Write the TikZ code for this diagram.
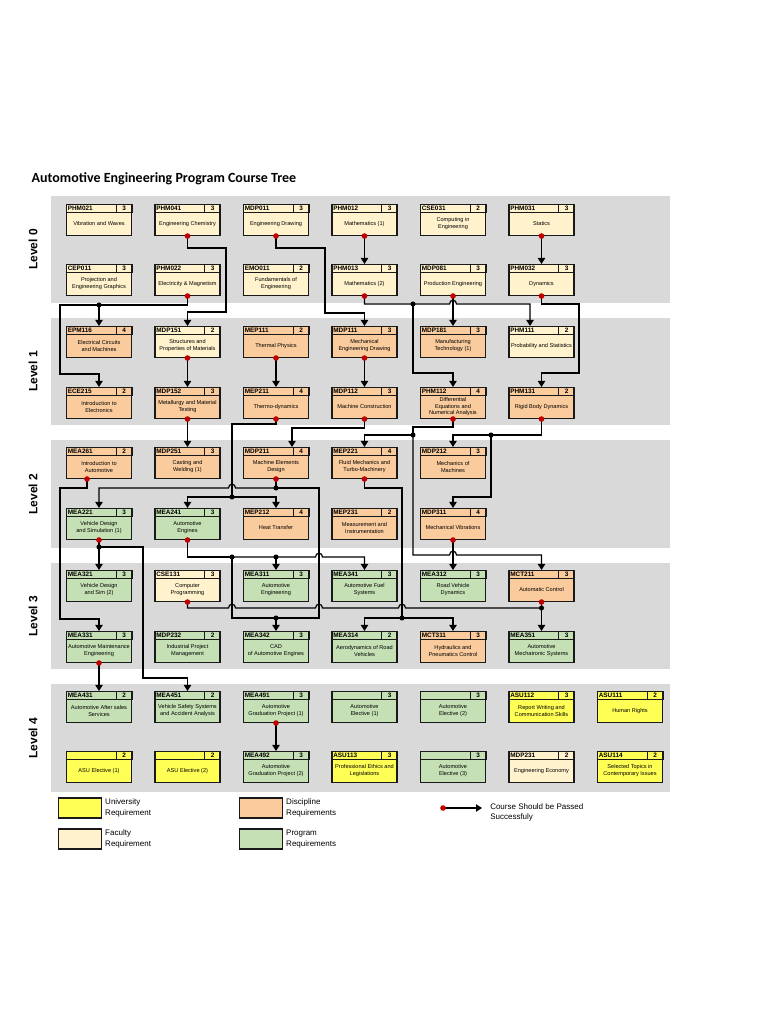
\documentclass[tikz,border=0pt]{standalone}
\usepackage{fontspec}
\setmainfont{Liberation Sans}
\newfontfamily\titlefont{Carlito}
\usepackage{xcolor}
\usetikzlibrary{arrows.meta,positioning}

\definecolor{bandgrey}{HTML}{D9D9D9}
\definecolor{faculty}{HTML}{FFF2CC}
\definecolor{discipline}{HTML}{FACB9C}
\definecolor{program}{HTML}{C5E0B4}
\definecolor{univ}{HTML}{FFFF55}
\definecolor{dotred}{HTML}{C00000}

% course box: name, x, y, fill, code, credits, title
\newcommand{\course}[7]{%
  \node[course, fill=#4] (#1) at (#2,#3) {};
  \draw[hdr] (#1.north west) rectangle ([yshift=-6pt]#1.north east);
  \draw[hdr] ([xshift=-12pt]#1.north east) -- ([xshift=-12pt,yshift=-6pt]#1.north east);
  \node[code, anchor=west] (#1-c) at ([xshift=1.2pt,yshift=-3pt]#1.north west) {#5};
  \node[code] (#1-k) at ([xshift=-6pt,yshift=-3pt]#1.north east) {#6};
  \node[ttext] (#1-t) at ([yshift=-2.8pt]#1.center) {#7};
}

\begin{document}
\begin{tikzpicture}[x=0.75pt, y=-0.75pt,
  course/.style={draw=black!90, line width=0.8pt, minimum width=48.75pt,
                 minimum height=23.25pt, inner sep=0pt},
  hdr/.style={draw=black!90, line width=0.7pt},
  code/.style={font=\fontsize{4.8}{5}\selectfont\bfseries, inner sep=0pt},
  ttext/.style={font=\fontsize{4.2}{5}\selectfont, align=center, inner sep=0pt},
  band/.style={fill=bandgrey},
  lvl/.style={font=\fontsize{9}{10}\selectfont\bfseries, rotate=90},
  wire/.style={line width=0.9pt, black},
  link/.style={wire, -{Triangle[width=5.5pt,length=4.5pt]}},
  legbox/.style={draw=black!90, line width=0.8pt, minimum width=32.25pt,
                 minimum height=15pt, inner sep=0pt},
  legtext/.style={font=\fontsize{6}{8}\selectfont, align=left, inner sep=0pt}
]
\useasboundingbox (0,0) rectangle (768,1024);

% title and level bands
\node[font=\titlefont\fontsize{10.5}{12}\selectfont\bfseries, anchor=west] (title) at (27,179)
  {Automotive Engineering Program Course Tree};
\fill[band] (51,196) rectangle (670,303);
\fill[band] (51,318) rectangle (670,425);
\fill[band] (51,440) rectangle (670,548);
\fill[band] (51,563) rectangle (670,669);
\fill[band] (51,684) rectangle (670,792);
\node[lvl] (lvl0) at (33,249.5) {Level 0};
\node[lvl] (lvl1) at (33,371.5) {Level 1};
\node[lvl] (lvl2) at (33,494) {Level 2};
\node[lvl] (lvl3) at (33,616) {Level 3};
\node[lvl] (lvl4) at (33,738) {Level 4};

% level 0
\course{phm021}{99}{220}{faculty}{PHM021}{3}{Vibration and Waves}
\course{phm041}{187.5}{220}{faculty}{PHM041}{3}{Engineering Chemistry}
\course{mdp011}{276}{220}{faculty}{MDP011}{3}{Engineering Drawing}
\course{phm012}{364.5}{220}{faculty}{PHM012}{3}{Mathematics (1)}
\course{cse031}{453}{220}{faculty}{CSE031}{2}{Computing in\\Engineering}
\course{phm031}{541.5}{220}{faculty}{PHM031}{3}{Statics}
\course{cep011}{99}{280}{faculty}{CEP011}{3}{Projection and\\Engineering Graphics}
\course{phm022}{187.5}{280}{faculty}{PHM022}{3}{Electricity \& Magnetism}
\course{emo011}{276}{280}{faculty}{EMO011}{2}{Fundamentals of\\Engineering}
\course{phm013}{364.5}{280}{faculty}{PHM013}{3}{Mathematics (2)}
\course{mdp081}{453}{280}{faculty}{MDP081}{3}{Production Engineering}
\course{phm032}{541.5}{280}{faculty}{PHM032}{3}{Dynamics}

% level 1
\course{epm116}{99}{342}{discipline}{EPM116}{4}{Electrical Circuits\\and Machines}
\course{mdp151}{187.5}{342}{faculty}{MDP151}{2}{Structures and\\Properties of Materials}
\course{mep111}{276}{342}{discipline}{MEP111}{2}{Thermal Physics}
\course{mdp111}{364.5}{342}{discipline}{MDP111}{3}{Mechanical\\Engineering Drawing}
\course{mdp181}{453}{342}{discipline}{MDP181}{3}{Manufacturing\\Technology (1)}
\course{phm111}{541.5}{342}{faculty}{PHM111}{2}{Probability and Statistics}
\course{ece215}{99}{403}{discipline}{ECE215}{2}{Introduction to\\Electronics}
\course{mdp152}{187.5}{403}{discipline}{MDP152}{3}{Metallurgy and Material\\Testing}
\course{mep211}{276}{403}{discipline}{MEP211}{4}{Thermo-dynamics}
\course{mdp112}{364.5}{403}{discipline}{MDP112}{3}{Machine Construction}
\course{phm112}{453}{403}{discipline}{PHM112}{4}{Differential\\Equations and\\Numerical Analysis}
\course{phm131}{541.5}{403}{discipline}{PHM131}{2}{Rigid Body Dynamics}

% level 2
\course{mea261}{99}{463}{discipline}{MEA261}{2}{Introduction to\\Automotive}
\course{mdp251}{187.5}{463}{discipline}{MDP251}{3}{Casting and\\Welding (1)}
\course{mdp211}{276}{463}{discipline}{MDP211}{4}{Machine Elements\\Design}
\course{mep221}{364.5}{463}{discipline}{MEP221}{4}{Fluid Mechanics and\\Turbo-Machinery}
\course{mdp212}{453}{463}{discipline}{MDP212}{3}{Mechanics of\\Machines}
\course{mea221}{99}{524}{program}{MEA221}{3}{Vehicle Design\\and Simulation (1)}
\course{mea241}{187.5}{524}{program}{MEA241}{3}{Automotive\\Engines}
\course{mep212}{276}{524}{discipline}{MEP212}{4}{Heat Transfer}
\course{mep231}{364.5}{524}{discipline}{MEP231}{2}{Measurement and\\Instrumentation}
\course{mdp311}{453}{524}{discipline}{MDP311}{4}{Mechanical Vibrations}

% level 3
\course{mea321}{99}{586}{program}{MEA321}{3}{Vehicle Design\\and Sim (2)}
\course{cse131}{187.5}{586}{faculty}{CSE131}{3}{Computer\\Programming}
\course{mea311}{276}{586}{program}{MEA311}{3}{Automotive\\Engineering}
\course{mea341}{364.5}{586}{program}{MEA341}{3}{Automotive Fuel\\Systems}
\course{mea312}{453}{586}{program}{MEA312}{3}{Road Vehicle\\Dynamics}
\course{mct211}{541.5}{586}{discipline}{MCT211}{3}{Automatic Control}
\course{mea331}{99}{647}{program}{MEA331}{3}{Automotive Maintenance\\Engineering}
\course{mdp232}{187.5}{647}{program}{MDP232}{2}{Industrial Project\\Management}
\course{mea342}{276}{647}{program}{MEA342}{3}{CAD\\of Automotive Engines}
\course{mea314}{364.5}{647}{program}{MEA314}{2}{Aerodynamics of Road\\Vehicles}
\course{mct311}{453}{647}{discipline}{MCT311}{3}{Hydraulics and\\Pneumatics Control}
\course{mea351}{541.5}{647}{program}{MEA351}{3}{Automotive\\Mechatronic Systems}

% level 4
\course{mea431}{99}{707}{program}{MEA431}{2}{Automotive After sales\\Services}
\course{mea451}{187.5}{707}{program}{MEA451}{2}{Vehicle Safety Systems\\and Accident Analysis}
\course{mea491}{276}{707}{program}{MEA491}{3}{Automotive\\Graduation Project (1)}
\course{elec1}{364.5}{707}{program}{}{3}{Automotive\\Elective (1)}
\course{elec2}{453}{707}{program}{}{3}{Automotive\\Elective (2)}
\course{asu112}{541.5}{707}{univ}{ASU112}{3}{Report Writing and\\Communication Skills}
\course{asu111}{630}{707}{univ}{ASU111}{2}{Human Rights}
\course{asue1}{99}{767}{univ}{}{2}{ASU Elective (1)}
\course{asue2}{187.5}{767}{univ}{}{2}{ASU Elective (2)}
\course{mea492}{276}{767}{program}{MEA492}{3}{Automotive\\Graduation Project (2)}
\course{asu113}{364.5}{767}{univ}{ASU113}{3}{Professional Ethics and\\Legislations}
\course{elec3}{453}{767}{program}{}{3}{Automotive\\Elective (3)}
\course{mdp231}{541.5}{767}{faculty}{MDP231}{2}{Engineering Economy}
\course{asu114}{630}{767}{univ}{ASU114}{2}{Selected Topics in\\Contemporary Issues}

% junctions
\coordinate (ja) at (99,305);
\coordinate (jb) at (413,304);
\coordinate (j1) at (276,488);
\coordinate (j2) at (232,497);
\coordinate (j3) at (491,435);
\coordinate (j4) at (413,435);
\coordinate (j5) at (232,557);
\coordinate (j6) at (276,618);
\coordinate (j7) at (276,557);
\coordinate (j8) at (402,618);
\coordinate (j9) at (99,547);
\coordinate (j10) at (541.5,608);

% level 0 -> level 1
\draw[link] (phm041.south) |- (226,248) |- (187.5,312) -- (mdp151.north);
\draw[link] (mdp011.south) |- (325,248) |- (364.5,313) -- (mdp111.north);
\draw[link] (phm012.south) -- (phm013.north);
\draw[link] (phm031.south) -- (phm032.north);
\draw[link] (phm022.south) |- (60,305) |- (99,374) -- (ece215.north);
\draw[link] (ja) -- (epm116.north);
\draw[link] (phm013.south) |- (449.5,304) .. controls +(0,-5) and +(0,-5) .. (456.5,304)
  -- (530,304) -- ([xshift=-8.6pt]phm111.north);
\draw[link] (jb) |- (453,373) -- (phm112.north);
\draw[link] (mdp081.south) -- (mdp181.north);
\draw[link] (phm032.south) |- (579,304) |- (541.5,373) -- (phm131.north);

% level 1 -> level 2
\draw[link] (mdp151.south) -- (mdp152.north);
\draw[link] (mep111.south) -- (mep211.north);
\draw[link] (mdp111.south) -- (mdp112.north);
\draw[link] (mdp152.south) -- (mdp251.north);
\draw[wire] (mep211.south) |- (232,424) -- (j2);
\draw[link] (j2) -| (mea241.north);
\draw[link] (j2) -| (mep212.north);
\draw[link] (mdp112.south) |- (292,428) -- ([xshift=12pt]mdp211.north);
\draw[wire] (phm112.south) |- (413,427) -- (j4);
\draw[link] (j4) -| (mep221.north);
\draw[link] (j4) |- (449.5,555) .. controls +(0,-5) and +(0,-5) .. (456.5,555)
  -- (541.5,555) -- (mct211.north);
\draw[wire] (phm131.south) |- (j3);
\draw[link] (j3) -| (mdp212.north);
\draw[link] (j3) |- (453,497) -- (mdp311.north);

% level 2 -> level 3
\draw[link] ([xshift=-9pt]mea261.south) |- (60,488) |- (99,619) -- (mea331.north);
\draw[wire] (mdp211.south) -- (j1);
\draw[link] (j1) -- (235.5,488) .. controls +(0,-5) and +(0,-5) .. (228.5,488)
  -- (99,488) -- (mea221.north);
\draw[wire] (j1) -| (319,618) -- (j6);
\draw[link] (j6) -- (mea342.north);
\draw[wire] (mea241.south) |- (j5);
\draw[link] (j5) -- (j7) -- (315.5,557) .. controls +(0,-5) and +(0,-5) .. (322.5,557)
  -- (364.5,557) -- (mea341.north);
\draw[link] (j7) -- (mea311.north);
\draw[wire] (j5) -- (232,618) -- (j6);
\draw[wire] (mep221.south) |- (402,488) -- (j8);
\draw[link] (j8) -| (mea314.north);
\draw[link] (j8) -| (mct311.north);
\draw[link] (mdp311.south) -- (mea312.north);
\draw[link] (mea221.south) -- (mea321.north);
\draw[link] (j9) -| (143,678) -| (mea451.north);
\draw[wire] (cse131.south) |- (228.5,608) .. controls +(0,-5) and +(0,-5) .. (235.5,608)
  -- (315.5,608) .. controls +(0,-5) and +(0,-5) .. (322.5,608)
  -- (398.5,608) .. controls +(0,-5) and +(0,-5) .. (405.5,608) -- (j10);
\draw[link] (mct211.south) -- (mea351.north);

% level 3 -> level 4
\draw[link] (mea331.south) -- (mea431.north);
\draw[link] (mea491.south) -- (mea492.north);

% dots
\foreach \j in {ja,jb,j1,j2,j3,j4,j5,j6,j7,j8,j9,j10}
  \fill (\j) circle[radius=1.9pt];
\foreach \s in {phm041,mdp011,phm012,phm031,phm022,phm013,mdp081,phm032,
                mdp151,mep111,mdp111,mdp152,mep211,mdp112,phm112,phm131,
                mdp211,mea241,mep221,mdp311,mea221,cse131,mct211,mea331,mea491}
  \fill[dotred] (\s.south) circle[radius=2.1pt];
\fill[dotred] ([xshift=-9pt]mea261.south) circle[radius=2.1pt];

% legend
\node[legbox, fill=univ] (legu) at (80,808) {};
\node[legtext, right=2.2pt of legu] (legut) {University\\Requirement};
\node[legbox, fill=faculty] (legf) at (80,839) {};
\node[legtext, right=2.2pt of legf] (legft) {Faculty\\Requirement};
\node[legbox, fill=discipline] (legd) at (261,808) {};
\node[legtext, right=2.2pt of legd] (legdt) {Discipline\\Requirements};
\node[legbox, fill=program] (legp) at (261,839) {};
\node[legtext, right=2.2pt of legp] (legpt) {Program\\Requirements};
\coordinate (lga) at (443,808);
\coordinate (lgb) at (482,808);
\draw[link] (lga) -- (lgb);
\fill[dotred] (lga) circle[radius=2.1pt];
\node[legtext, anchor=north west] (legat) at (490,803) {Course Should be Passed\\Successfuly};

\end{tikzpicture}
\end{document}
